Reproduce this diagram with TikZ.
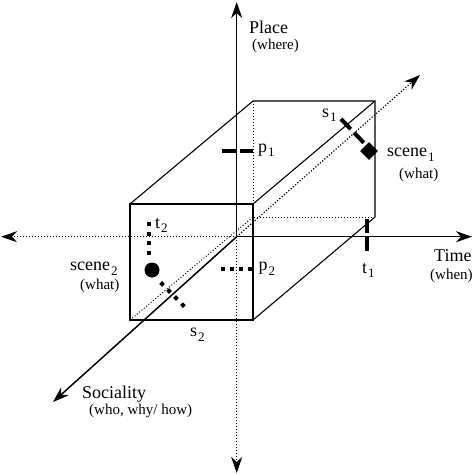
\documentclass[tikz,border=0pt]{standalone}
\usepackage{fontspec}
\setmainfont{Liberation Serif}
\usetikzlibrary{arrows.meta,shapes.geometric}
\newcommand\lbsub[1]{\kern1pt\raisebox{-4.5pt}{\fontsize{13}{13}\selectfont #1}}
\begin{document}
\begin{tikzpicture}[x=1pt,y=-1pt,
  axis/.style={line width=1.5pt, -{Stealth[length=16pt,width=11pt,inset=5pt]}},
  dotaxis/.style={axis, line width=1.2pt, dash pattern=on 1.2pt off 1.8pt},
  edge/.style={line width=1.1pt},
  hidden/.style={line width=1pt, dash pattern=on 1pt off 2pt},
  markA/.style={line width=4pt},
  markB/.style={line width=4pt},
  big/.style={font=\fontsize{18}{20}\selectfont, inner sep=0pt, anchor=base west},
  small/.style={font=\fontsize{15}{17}\selectfont, inner sep=0pt, anchor=base west},
]
\useasboundingbox (0,0) rectangle (474,474);
\fill[white] (0,0) rectangle (474,474);
% axes
\coordinate (O) at (236.7,236.7);
\coordinate (Ptop) at (236.7,2);
\coordinate (Pbot) at (236.7,473);
\coordinate (Tright) at (472,236.7);
\coordinate (Tleft) at (1,236.7);
\coordinate (Sfront) at (53,402);
\coordinate (Sback) at (420,75);
\draw[axis] (O) -- (Ptop);
\draw[dotaxis] (O) -- (Pbot);
\draw[axis] (O) -- (Tright);
\draw[dotaxis] (O) -- (Tleft);
\draw[axis] (O) -- (Sfront);
\draw[dotaxis] (O) -- (Sback);
% cube
\coordinate (A) at (130,204);
\coordinate (B) at (253,204);
\coordinate (C) at (253,320);
\coordinate (D) at (130,320);
\coordinate (E) at (253,101);
\coordinate (F) at (375,101);
\coordinate (G) at (375,217);
\coordinate (H) at (253,217);
\draw[edge] (A) -- (B) -- (C) -- (D) -- cycle;
\draw[edge] (A) -- (E) -- (F) -- (G) -- (C);
\draw[edge] (B) -- (F);
\draw[hidden] (E) -- (H) -- (G);
\draw[hidden] (D) -- (H);
% markers
\coordinate (p1a) at (221.7,150.7); \coordinate (p1b) at (253.3,150.7);
\draw[markA, dash pattern=on 14pt off 4pt] (p1a) -- (p1b);
\coordinate (s1a) at (341,119); \coordinate (s1b) at (364,143);
\draw[markA, dash pattern=on 14pt off 5pt] (s1a) -- (s1b);
\node[diamond, fill, inner sep=0pt, minimum size=18pt] (sc1) at (369,151) {};
\coordinate (t1a) at (367,219); \coordinate (t1b) at (367,251);
\draw[markA, dash pattern=on 14pt off 4pt] (t1a) -- (t1b);
\node[circle, fill, inner sep=0pt, minimum size=15pt] (sc2) at (152,270) {};
\coordinate (t2a) at (149,222); \coordinate (t2b) at (149,254.5);
\draw[markB, dash pattern=on 4pt off 5.5pt] (t2a) -- (t2b);
\coordinate (p2a) at (221,269); \coordinate (p2b) at (252,269);
\draw[markB, dash pattern=on 4pt off 5pt] (p2a) -- (p2b);
\coordinate (s2a) at (160.7,282.5); \coordinate (s2b) at (185.3,307.5);
\draw[markB, dash pattern=on 4pt off 5.9pt] (s2a) -- (s2b);
% labels
\node[big] (lplace) at (249,33.5) {Place};
\node[small] (lwhere) at (252,49) {(where)};
\node[big] (lp1) at (258,152) {p\lbsub{1}};
\node[big] (ls1) at (322,117.3) {s\lbsub{1}};
\node[big] (lsc1) at (387,156.7) {scene\lbsub{1}};
\node[small] (lwhat1) at (399,178) {(what)};
\node[big] (lt1) at (362,273) {t\lbsub{1}};
\node[big] (ltime) at (434,261.7) {Time};
\node[small] (lwhen) at (430,279) {(when)};
\node[big] (lt2) at (155,228.3) {t\lbsub{2}};
\node[big] (lsc2) at (70,270.7) {scene\lbsub{2}};
\node[small] (lwhat2) at (80,289.5) {(what)};
\node[big] (lp2) at (258.3,270.5) {p\lbsub{2}};
\node[big] (ls2) at (190,336.7) {s\lbsub{2}};
\node[big] (lsoc) at (82,398.3) {Sociality};
\node[small] (lwho) at (89,414) {(who, why/ how)};
\end{tikzpicture}
\end{document}
